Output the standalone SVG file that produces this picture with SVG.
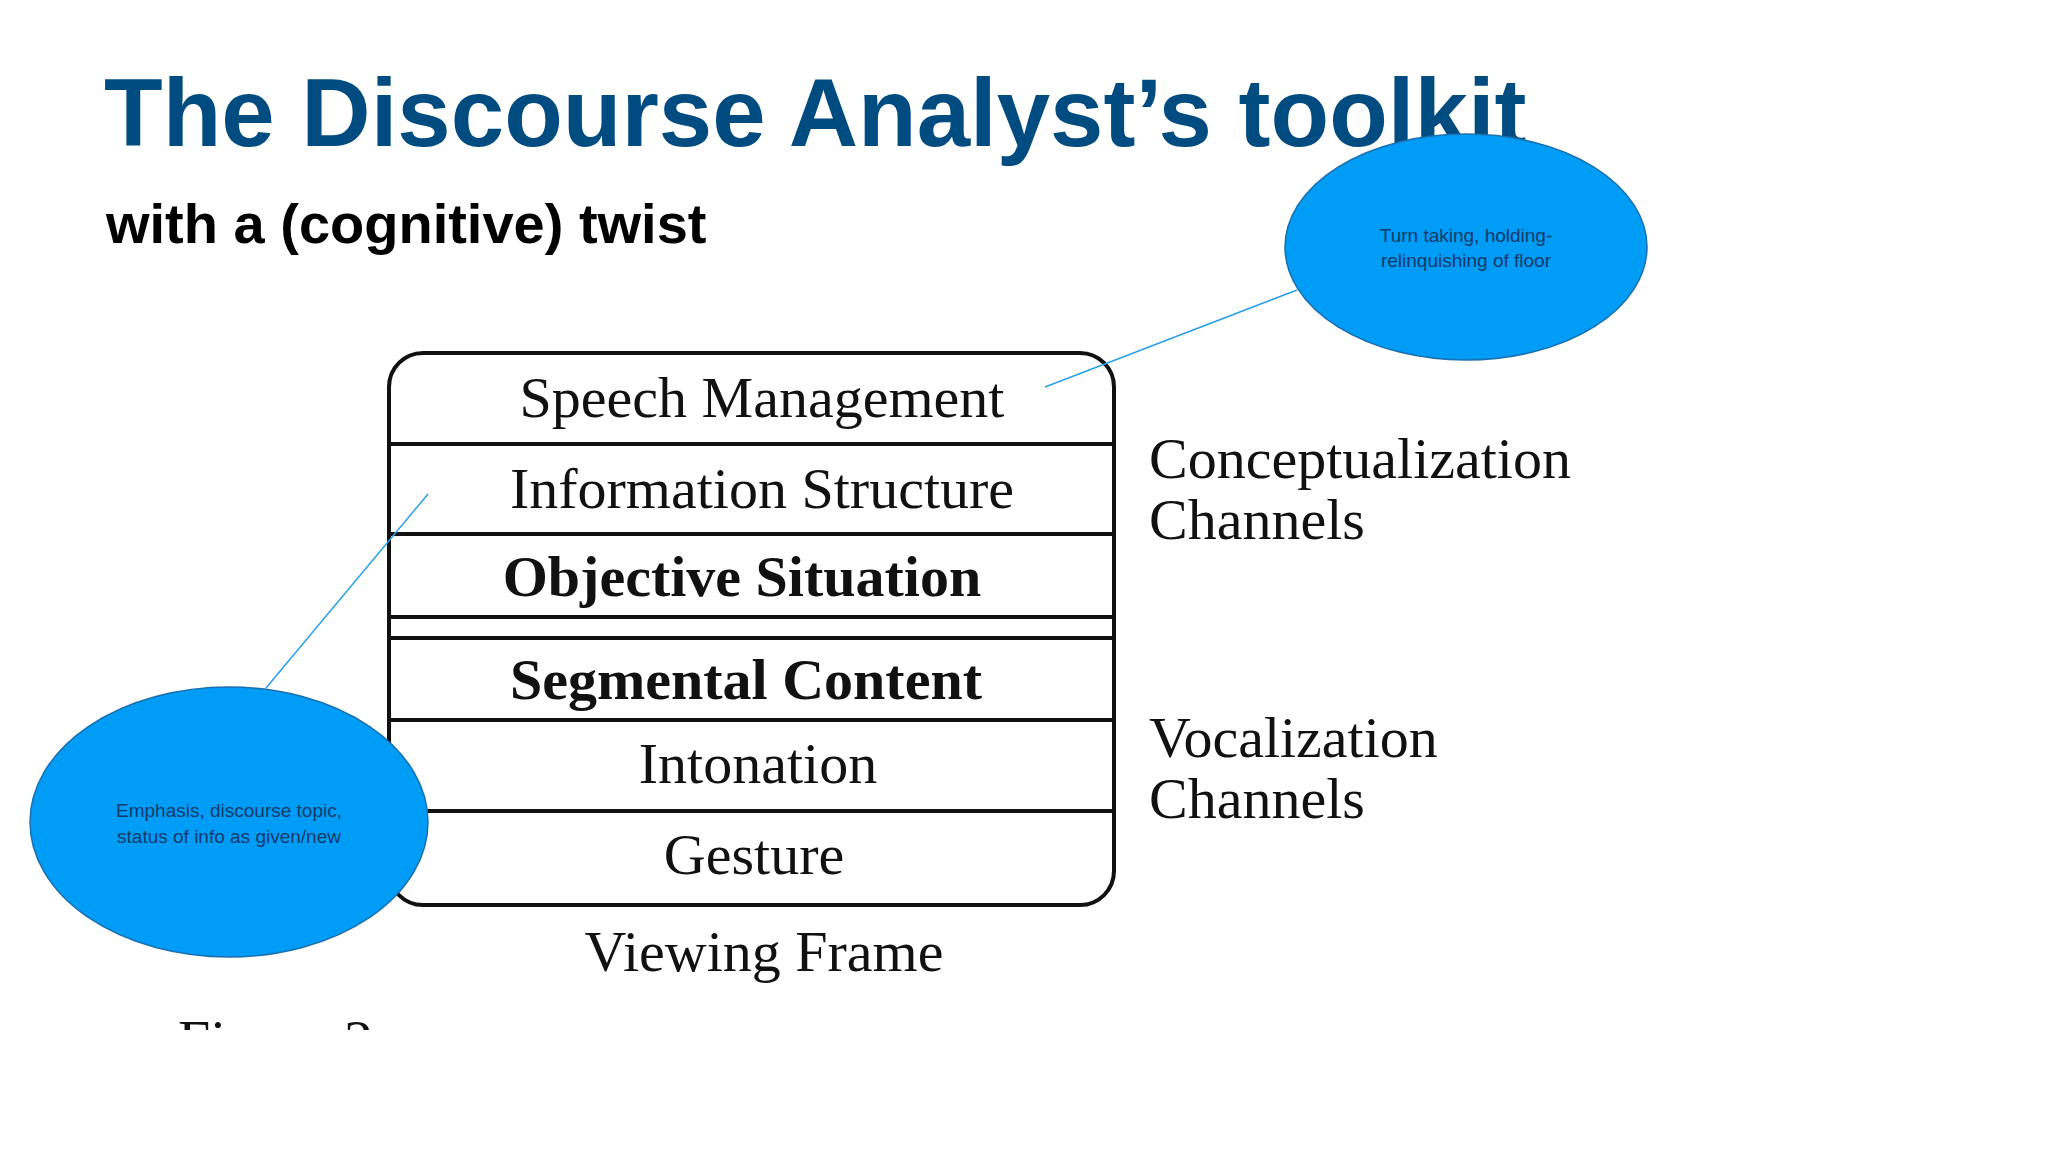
<svg xmlns="http://www.w3.org/2000/svg" width="2048" height="1152" viewBox="0 0 2048 1152">
<style>
.t{font-family:"Liberation Sans",Arial,sans-serif;font-weight:bold}
.s{font-family:"Liberation Serif","Times New Roman",serif;font-size:58px;fill:#111}
.b{font-weight:bold}
.e{fill:#009cf5;stroke:#1a6fb0;stroke-width:1.5}
.et{font-family:"Liberation Sans",Arial,sans-serif;font-size:19px;fill:#103a6a;text-anchor:middle}
.ln{stroke:#111;stroke-width:4}
.c{stroke:#2aa0e8;stroke-width:1.5}
</style>
<defs><clipPath id="cp"><rect x="0" y="0" width="2048" height="1030"/></clipPath></defs>
<rect width="2048" height="1152" fill="#fff"/>
<g id="title">
<text class="t" x="104" y="146" font-size="96" fill="#004b80">The Discourse Analyst’s toolkit</text>
<text class="t" x="106" y="243" font-size="56" fill="#000">with a (cognitive) twist</text>
</g>
<g id="figure">
<rect x="389" y="353" width="725" height="552" rx="34" fill="#fff" stroke="#111" stroke-width="4"/>
<line class="ln" x1="389" y1="444" x2="1114" y2="444"/>
<line class="ln" x1="389" y1="534" x2="1114" y2="534"/>
<line class="ln" x1="389" y1="617" x2="1114" y2="617"/>
<line class="ln" x1="389" y1="638" x2="1114" y2="638"/>
<line class="ln" x1="389" y1="720" x2="1114" y2="720"/>
<line class="ln" x1="389" y1="811" x2="1114" y2="811"/>
<g text-anchor="middle">
<text class="s" x="762" y="417">Speech Management</text>
<text class="s" x="762" y="508">Information Structure</text>
<text class="s b" x="742" y="596">Objective  Situation</text>
<text class="s b" x="746" y="699">Segmental  Content</text>
<text class="s" x="758" y="783">Intonation</text>
<text class="s" x="754" y="874">Gesture</text>
<text class="s" x="764" y="971">Viewing Frame</text>
</g>
<text class="s" x="1149" y="478">Conceptualization</text>
<text class="s" x="1149" y="539">Channels</text>
<text class="s" x="1149" y="757">Vocalization</text>
<text class="s" x="1149" y="818">Channels</text>
<text class="s" x="178" y="1060" font-size="52" clip-path="url(#cp)">Figure 2</text>
</g>
<g id="connectors">
<line class="c" x1="1045" y1="387" x2="1297" y2="290"/>
<line class="c" x1="428" y1="494" x2="266" y2="688"/>
</g>
<g id="note-turn">
<ellipse class="e" cx="1466" cy="247" rx="181" ry="113"/>
<text class="et" x="1466" y="242">Turn taking, holding-</text>
<text class="et" x="1466" y="267">relinquishing of floor</text>
</g>
<g id="note-emphasis">
<ellipse class="e" cx="229" cy="822" rx="199" ry="135"/>
<text class="et" x="229" y="817">Emphasis, discourse topic,</text>
<text class="et" x="229" y="843">status of info as given/new</text>
</g>
</svg>
